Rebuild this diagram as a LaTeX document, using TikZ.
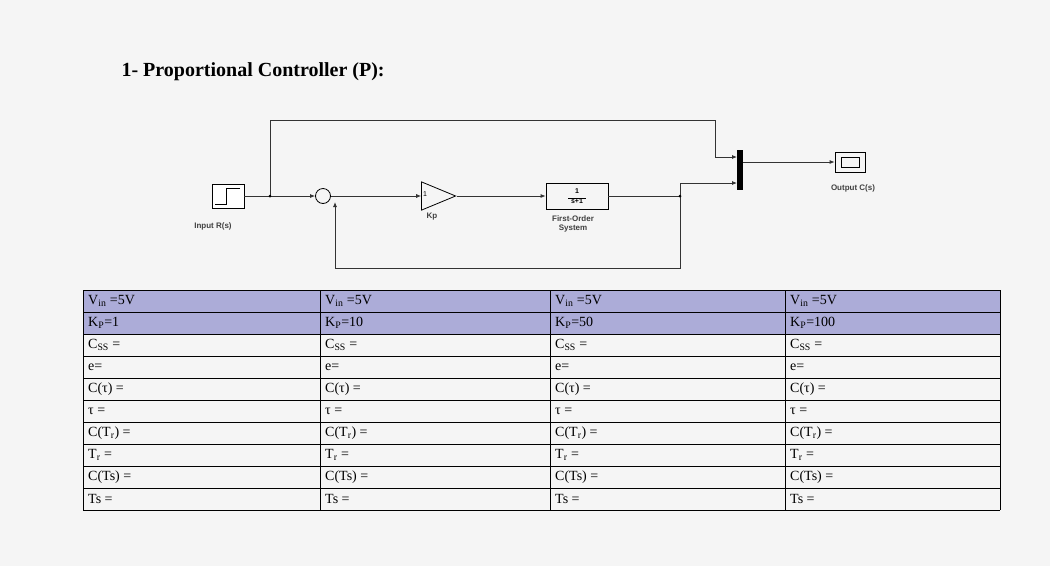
\documentclass[tikz,border=0pt]{standalone}
\usepackage{fontspec}
\setmainfont{Liberation Serif}
\newfontfamily\blk{Liberation Sans}
\usetikzlibrary{positioning,shapes.geometric,arrows.meta}
\definecolor{hdr}{RGB}{172,172,216}
\begin{document}
\begin{tikzpicture}[x=1pt,y=-1pt,
  wire/.style={draw=black!80,line width=0.8pt,-{Latex[length=5pt,width=4pt]}},
  ln/.style={draw=black!80,line width=0.8pt},
  lab/.style={font=\blk\bfseries\fontsize{8}{9}\selectfont,text=black!75},
  cell/.style={anchor=west,font=\fontsize{14}{15}\selectfont,inner sep=0pt}]
\useasboundingbox (0,0) rectangle (1050,566);
\fill[gray!8] (0,0) rectangle (1050,566);
\node[anchor=west,font=\bfseries\fontsize{20}{22}\selectfont] (title) at (118,72) {1- Proportional Controller (P):};
% blocks
\node[draw,line width=0.8pt,minimum width=32pt,minimum height=24pt,fill=white] (in) at (228,196) {};
\draw[line width=0.8pt] (215,204) -- (226,204) -- (226,188) -- (240,188);
\node[lab] (inl) at (213,226) {Input R(s)};
\node[draw,circle,minimum size=15pt,inner sep=0pt,line width=0.8pt] (sum) at (323,196) {};
\node[draw,line width=0.8pt,isosceles triangle,minimum height=34pt,minimum width=26pt,inner sep=0pt] (gain) at (431,196) {};
\node[font=\blk\fontsize{7}{8}\selectfont] at (425,194) {1};
\node[lab] at (432,217) {Kp};
\node[draw,line width=0.8pt,minimum width=62pt,minimum height=26pt] (tf) at (577,196) {};
\node[font=\blk\bfseries\fontsize{7}{8}\selectfont,align=center] at (577,196) {1\\[-3pt]\rule{18pt}{0.4pt}\\[-3pt]s+1};
\node[lab,align=center] at (573,224) {First-Order\\System};
\fill (737,150) rectangle (743,190);
\node[draw,line width=0.8pt,minimum width=30pt,minimum height=20pt] (sc) at (850,162) {};
\draw[line width=0.8pt] (841,157) rectangle (859,167);
\node[lab] at (853,188) {Output C(s)};
% wires
\coordinate (br) at (270,196);
\draw[wire] (in.east) -- (sum.west);
\draw[wire] (sum.east) -- (gain.west);
\draw[wire] (gain.east) -- (tf.west);
\draw[ln] (tf.east) -- (680,196);
\draw[wire] (680,183) -- (737,183);
\draw[ln] (680,196) -- (680,183);
\draw[ln] (br) -- (270,120) -- (715,120) -- (715,157);
\draw[wire] (715,157) -- (737,157);
\draw[wire] (743,162) -- (sc.west);
\draw[ln] (680,196) -- (680,268) -- (335,268);
\draw[wire] (335,268) -- (335,202);
\fill (br) circle (1.5pt); \fill (680,196) circle (1.5pt);
% table
\fill[hdr] (83,290) rectangle (1000,334);
\foreach \i in {0,...,10} \draw[line width=1pt] (83,290+22*\i) -- (1000,290+22*\i);
\foreach \x in {83,320,550,785,1000} \draw[line width=1pt] (\x,290) -- (\x,510);
\foreach \x/\k in {88/1,325/10,555/50,790/100}{
 \node[cell] at (\x,301) {V\textsubscript{in} =5V};
 \node[cell] at (\x,323) {K\textsubscript{P}=\k};
 \node[cell] at (\x,345) {C\textsubscript{SS} =};
 \node[cell] at (\x,367) {e=};
 \node[cell] at (\x,389) {C(τ) =};
 \node[cell] at (\x,411) {τ =};
 \node[cell] at (\x,433) {C(T\textsubscript{r}) =};
 \node[cell] at (\x,455) {T\textsubscript{r} =};
 \node[cell] at (\x,477) {C(Ts) =};
 \node[cell] at (\x,499) {Ts =};
}
\end{tikzpicture}
\end{document}
